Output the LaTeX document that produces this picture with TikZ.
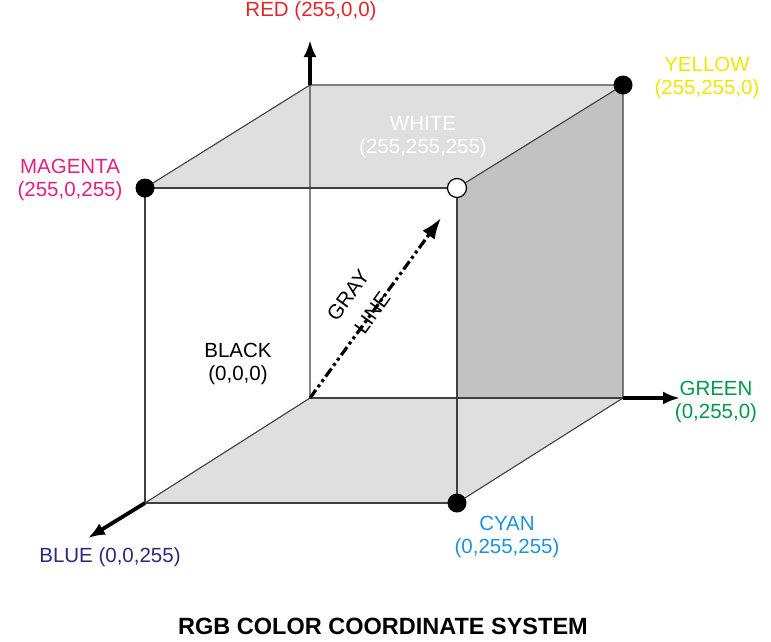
\documentclass[tikz,border=0pt]{standalone}
\usepackage{fontspec}
\setmainfont{Liberation Sans}
\usetikzlibrary{arrows.meta}
\definecolor{cred}{HTML}{E0262A}
\definecolor{cyel}{HTML}{F2E600}
\definecolor{cmag}{HTML}{E2207F}
\definecolor{cgrn}{HTML}{00994C}
\definecolor{ccya}{HTML}{1D93DD}
\definecolor{cblu}{HTML}{2B2A7E}
\definecolor{ltgray}{HTML}{DFDFDF}
\definecolor{dkgray}{HTML}{C2C2C2}
\begin{document}
\begin{tikzpicture}[x=1pt,y=-1pt,
  lbl/.style={font=\fontsize{20.5}{23}\selectfont,align=center,inner sep=0pt},
  axis/.style={line width=3.8pt,-{Latex[length=17pt,width=13pt]}},
  edge/.style={line width=1.1pt,draw=black!75},
  dot/.style={circle,fill=black,minimum size=19pt,inner sep=0pt}]
\useasboundingbox (0,0) rectangle (771,641);
\coordinate (K) at (310,398);
\coordinate (R) at (310,85);
\coordinate (Y) at (623,85);
\coordinate (G) at (623,398);
\coordinate (M) at (145,188);
\coordinate (W) at (457,188);
\coordinate (B) at (145,503);
\coordinate (C) at (457,503);
\fill[ltgray] (M)--(W)--(Y)--(R)--cycle;
\fill[dkgray] (W)--(Y)--(G)--(C)--cycle;
\fill[ltgray] (B)--(C)--(G)--(K)--cycle;
\draw[edge] (M)--(W)--(C)--(B)--cycle;
\draw[edge] (M)--(R)--(Y)--(W);
\draw[edge] (Y)--(G)--(C);
\draw[edge] (K)--(G);
\draw[edge] (B)--(K)--(R);
\draw[axis] (R)--(310,40);
\draw[axis] (G)--(680,398);
\draw[axis] (B)--(88,538);
\draw[line width=3.2pt,dash pattern=on 10pt off 3.5pt on 3pt off 3.5pt on 3pt off 3.5pt,-{Latex[length=21pt,width=15pt]}] (K)--(441,218);
\node[dot] (dY) at (Y) {};
\node[dot] (dM) at (M) {};
\node[dot] (dC) at (C) {};
\node[circle,fill=white,draw=black,line width=1.2pt,minimum size=19pt,inner sep=0pt] (dW) at (W) {};
\node[lbl,text=cred] (tR) at (311,11) {RED (255,0,0)};
\node[lbl,text=cyel] (tY) at (707,78) {YELLOW\\(255,255,0)};
\node[lbl,text=white] (tW) at (423,137) {WHITE\\(255,255,255)};
\node[lbl,text=cmag] (tM) at (70,180) {MAGENTA\\(255,0,255)};
\node[lbl] (tK) at (238,364) {BLACK\\(0,0,0)};
\node[lbl,text=cgrn] (tG) at (716,402) {GREEN\\(0,255,0)};
\node[lbl,text=ccya] (tC) at (507,537) {CYAN\\(0,255,255)};
\node[lbl,text=cblu] (tB) at (110,557) {BLUE (0,0,255)};
\node[lbl,rotate=54,font=\fontsize{20.5}{30}\selectfont] (tL) at (360,304) {GRAY\\LINE};
\node[lbl,font=\bfseries\fontsize{23.5}{26}\selectfont] (tT) at (383,626) {RGB COLOR COORDINATE SYSTEM};
\end{tikzpicture}
\end{document}
